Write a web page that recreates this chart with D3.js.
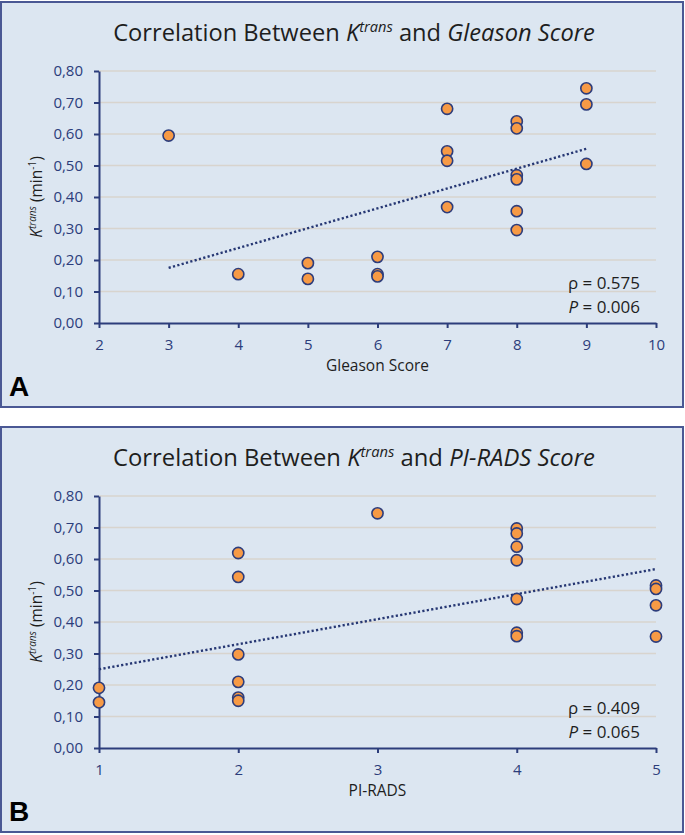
<!DOCTYPE html>
<html>
<head>
<meta charset="utf-8">
<script src="https://cdn.jsdelivr.net/npm/d3@7"></script>
<style>
  html, body { margin: 0; padding: 0; background: #ffffff; }
  svg { display: block; }
</style>
</head>
<body>
<svg id="chart" width="685" height="835"></svg>
<script>
// ---------------- DATA ----------------
const gleasonScores = [3, 4, 5, 5, 6, 6, 6, 7, 7, 7, 7, 8, 8, 8, 8, 8, 8, 9, 9, 9];
const gleasonKtrans = [0.595, 0.155, 0.19, 0.14, 0.21, 0.155, 0.148, 0.68, 0.545, 0.515, 0.368,
                       0.64, 0.618, 0.469, 0.456, 0.355, 0.295, 0.745, 0.694, 0.505];
const gleasonTrendX = [3, 9];
const gleasonTrendY = [0.175, 0.553];
const gleasonXTicks = [2, 3, 4, 5, 6, 7, 8, 9, 10];

const piradsScores = [1, 1, 2, 2, 2, 2, 2, 2, 3, 4, 4, 4, 4, 4, 4, 4, 5, 5, 5, 5];
const piradsKtrans = [0.191, 0.145, 0.619, 0.543, 0.297, 0.21, 0.16, 0.15, 0.745,
                      0.697, 0.681, 0.639, 0.596, 0.473, 0.366, 0.355, 0.516, 0.505, 0.453, 0.354];
const piradsTrendX = [1, 5];
const piradsTrendY = [0.25, 0.568];
const piradsXTicks = [1, 2, 3, 4, 5];

const yTicks = [0, 0.1, 0.2, 0.3, 0.4, 0.5, 0.6, 0.7, 0.8];

const panels = [
  { letter: "A", top: 1, titleItalic: "Gleason Score", xLabel: "Gleason Score",
    xs: gleasonScores, ys: gleasonKtrans, tx: gleasonTrendX, ty: gleasonTrendY,
    xDomain: [2, 10], xTicks: gleasonXTicks, rho: "ρ = 0.575", p: " = 0.006" },
  { letter: "B", top: 426, titleItalic: "PI-RADS Score", xLabel: "PI-RADS",
    xs: piradsScores, ys: piradsKtrans, tx: piradsTrendX, ty: piradsTrendY,
    xDomain: [1, 5], xTicks: piradsXTicks, rho: "ρ = 0.409", p: " = 0.065" }
];

// ---------------- STYLE ----------------
const BG = "#dce6f1";
const BORDER = "#4a5894";
const NAVY = "#2c3d7b";
const GRID = "#d8d4ce";
const DOT_FILL = "#f79a45";
const DOT_STROKE = "#2d3d7c";
const FONT = "'Open Sans', 'Noto Sans', sans-serif";
const TEXT = "#1e1e1e";

const svg = d3.select("#chart");
svg.append("rect").attr("width", 685).attr("height", 835).attr("fill", "#ffffff");

const fmt = v => d3.format(".2f")(v).replace(".", ",");

panels.forEach(pn => {
  const g = svg.append("g").attr("transform", `translate(0,${pn.top})`);
  g.append("rect").attr("x", 1).attr("y", 1).attr("width", 682).attr("height", 405)
    .attr("fill", BG).attr("stroke", BORDER).attr("stroke-width", 2);

  const x = d3.scaleLinear().domain(pn.xDomain).range([99, 656]);
  const y = d3.scaleLinear().domain([0, 0.8]).range([322, 70]);

  // title
  const title = g.append("text").attr("x", 354).attr("y", 40)
    .attr("text-anchor", "middle").attr("font-family", FONT).attr("font-size", 21)
    .attr("fill", TEXT);
  title.append("tspan").text("Correlation Between ");
  title.append("tspan").attr("font-style", "italic").text("K");
  title.append("tspan").attr("font-style", "italic").attr("font-size", 13).attr("dy", -8).text("trans");
  title.append("tspan").attr("dy", 8).text(" and ");
  title.append("tspan").attr("font-style", "italic").text(pn.titleItalic);
  const tw = title.node().getComputedTextLength();
  const s = 21 * 482 / tw;
  title.attr("font-size", s);
  title.selectAll("tspan").filter((d, i) => i === 2).attr("font-size", s * 0.62).attr("dy", -s * 0.38);
  title.selectAll("tspan").filter((d, i) => i === 3).attr("dy", s * 0.38);

  // gridlines
  g.append("g").selectAll("line").data(yTicks.filter(v => v > 0)).join("line")
    .attr("x1", x.range()[0]).attr("x2", x.range()[1])
    .attr("y1", d => y(d)).attr("y2", d => y(d))
    .attr("stroke", GRID).attr("stroke-width", 1.5);

  const yAxis = g.append("g").attr("transform", `translate(${x.range()[0]},0)`)
    .call(d3.axisLeft(y).tickValues(yTicks).tickFormat(fmt).tickSize(5).tickPadding(11).tickSizeOuter(0));
  const xAxis = g.append("g").attr("transform", `translate(0,${y(0)})`)
    .call(d3.axisBottom(x).tickValues(pn.xTicks).tickFormat(d3.format("d")).tickSize(5).tickPadding(11).tickSizeOuter(0));
  [yAxis, xAxis].forEach(ax => {
    ax.select(".domain").attr("stroke", NAVY).attr("stroke-width", 2);
    ax.selectAll(".tick line").attr("stroke", NAVY).attr("stroke-width", 2);
    ax.selectAll(".tick text").attr("fill", NAVY).attr("font-family", FONT).attr("font-size", 15);
  });

  // trend line
  g.append("path")
    .datum(pn.tx.map((v, i) => [v, pn.ty[i]]))
    .attr("d", d3.line().x(d => x(d[0])).y(d => y(d[1])))
    .attr("fill", "none").attr("stroke", "#263773").attr("stroke-width", 2.4)
    .attr("stroke-dasharray", "2.2,2.3");

  // points
  g.append("g").selectAll("circle").data(pn.xs.map((v, i) => [v, pn.ys[i]])).join("circle")
    .attr("cx", d => x(d[0])).attr("cy", d => y(d[1])).attr("r", 5.6)
    .attr("fill", DOT_FILL).attr("stroke", DOT_STROKE).attr("stroke-width", 1.6);

  // annotations
  g.append("text").attr("x", 640).attr("y", 288).attr("text-anchor", "end")
    .attr("font-family", FONT).attr("font-size", 17).attr("fill", TEXT).text(pn.rho);
  const pt = g.append("text").attr("x", 640).attr("y", 312).attr("text-anchor", "end")
    .attr("font-family", FONT).attr("font-size", 17).attr("fill", TEXT);
  pt.append("tspan").attr("font-style", "italic").text("P");
  pt.append("tspan").text(pn.p);

  // y label
  const yl = g.append("text").attr("transform", `translate(42,${(y(0) + y(0.8)) / 2}) rotate(-90)`)
    .attr("text-anchor", "middle").attr("font-family", FONT).attr("font-size", 15.5).attr("fill", TEXT);
  yl.append("tspan").attr("font-style", "italic").text("K");
  yl.append("tspan").attr("font-style", "italic").attr("font-size", 10).attr("dy", -6).text("trans");
  yl.append("tspan").attr("dy", 6).text(" (min");
  yl.append("tspan").attr("font-size", 10).attr("dy", -6).text("-1");
  yl.append("tspan").attr("dy", 6).text(")");

  // x label
  g.append("text").attr("x", (x.range()[0] + x.range()[1]) / 2).attr("y", 370)
    .attr("text-anchor", "middle").attr("font-family", FONT).attr("font-size", 15.5)
    .attr("fill", TEXT).text(pn.xLabel);

  // panel letter
  g.append("text").attr("x", 9).attr("y", 395)
    .attr("font-family", "'Liberation Sans', Arial, sans-serif").attr("font-weight", "bold")
    .attr("font-size", 28).attr("fill", "#000").text(pn.letter);
});
</script>
</body>
</html>
